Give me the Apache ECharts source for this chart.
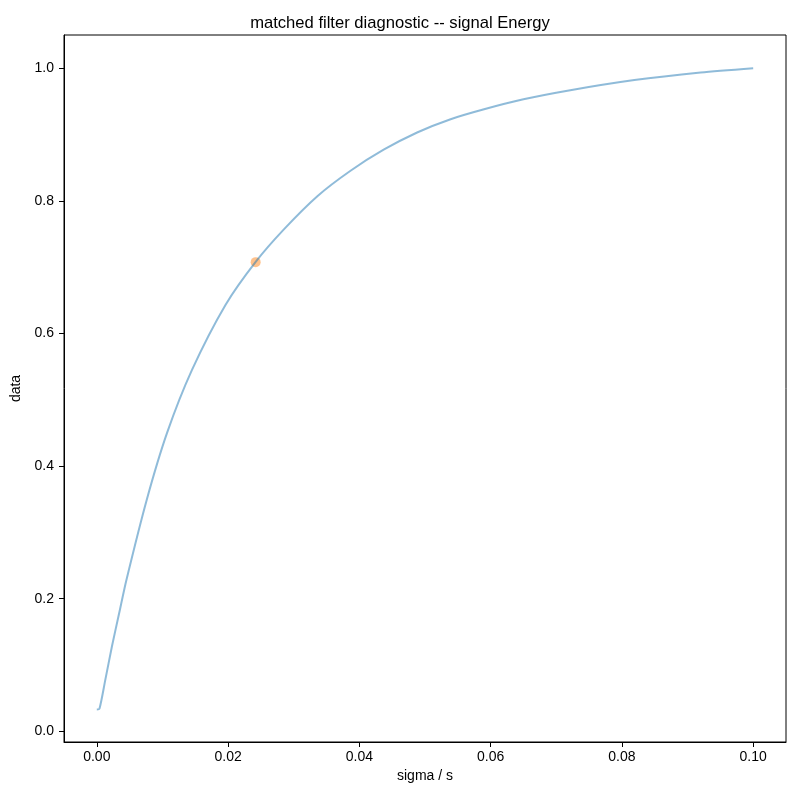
<!DOCTYPE html>
<html>
<head>
<meta charset="utf-8">
<script src="https://cdn.jsdelivr.net/npm/echarts@6/dist/echarts.min.js"></script>
<style>html,body{margin:0;padding:0;background:#fff}#c{width:800px;height:800px}</style>
</head>
<body>
<div id="c"></div>
<script>
// sigma values (s) and curve values
const sigma = [0, 0.0004, 0.0013, 0.0023, 0.0034, 0.0045, 0.0076, 0.0107, 0.0145, 0.0196, 0.0242, 0.0285, 0.0336, 0.0386, 0.0437, 0.0488, 0.0539, 0.0590, 0.0650, 0.0717, 0.0819, 0.0920, 0.1000];
const energy = [0.033, 0.034, 0.078, 0.128, 0.178, 0.228, 0.349, 0.450, 0.545, 0.643, 0.708, 0.757, 0.807, 0.845, 0.877, 0.903, 0.923, 0.938, 0.953, 0.966, 0.982, 0.9935, 1.000];
const markerPoint = [0.0242, 0.7075];
const xTicks = [0, 0.02, 0.04, 0.06, 0.08, 0.10];
const yTicks = [0, 0.2, 0.4, 0.6, 0.8, 1.0];

const font = 'Liberation Sans, Arial, sans-serif';
const chart = echarts.init(document.getElementById('c'), null, {renderer: 'canvas'});
chart.setOption({
  animation: false,
  backgroundColor: '#fff',
  title: {
    text: 'matched filter diagnostic -- signal Energy',
    left: 'center', top: 10,
    textStyle: {fontFamily: font, fontSize: 16.6, fontWeight: 'normal', color: '#000'}
  },
  grid: {left: 64, right: 14, top: 35, bottom: 58, show: true, borderColor: '#000', borderWidth: 1},
  xAxis: {
    type: 'value', min: -0.005, max: 0.105,
    name: 'sigma / s', nameLocation: 'middle', nameGap: 26,
    nameTextStyle: {fontFamily: font, fontSize: 14, color: '#000'},
    axisLine: {show: true, onZero: false, lineStyle: {color: '#000', width: 1}},
    axisTick: {show: true, length: 5, lineStyle: {color: '#000'}, customValues: xTicks},
    axisLabel: {fontFamily: font, fontSize: 14, color: '#000', margin: 8, customValues: xTicks,
      formatter: v => v.toFixed(2)},
    splitLine: {show: false}
  },
  yAxis: {
    type: 'value', min: -0.016, max: 1.05,
    name: 'data', nameLocation: 'middle', nameGap: 36, nameRotate: 90,
    nameTextStyle: {fontFamily: font, fontSize: 14, color: '#000'},
    axisLine: {show: true, onZero: false, lineStyle: {color: '#000', width: 1}},
    axisTick: {show: true, length: 5, lineStyle: {color: '#000'}, customValues: yTicks},
    axisLabel: {fontFamily: font, fontSize: 14, color: '#000', margin: 10, customValues: yTicks,
      formatter: v => v.toFixed(1)},
    splitLine: {show: false}
  },
  series: [
    {
      type: 'line',
      data: sigma.map((s, i) => [s, energy[i]]),
      showSymbol: false,
      smooth: 0.25,
      lineStyle: {color: 'rgba(31,119,180,0.5)', width: 2},
      itemStyle: {color: 'rgba(31,119,180,0.5)'}
    },
    {
      type: 'scatter',
      data: [markerPoint],
      symbolSize: 10,
      itemStyle: {color: 'rgba(255,127,14,0.6)'}
    }
  ]
});
</script>
</body>
</html>
